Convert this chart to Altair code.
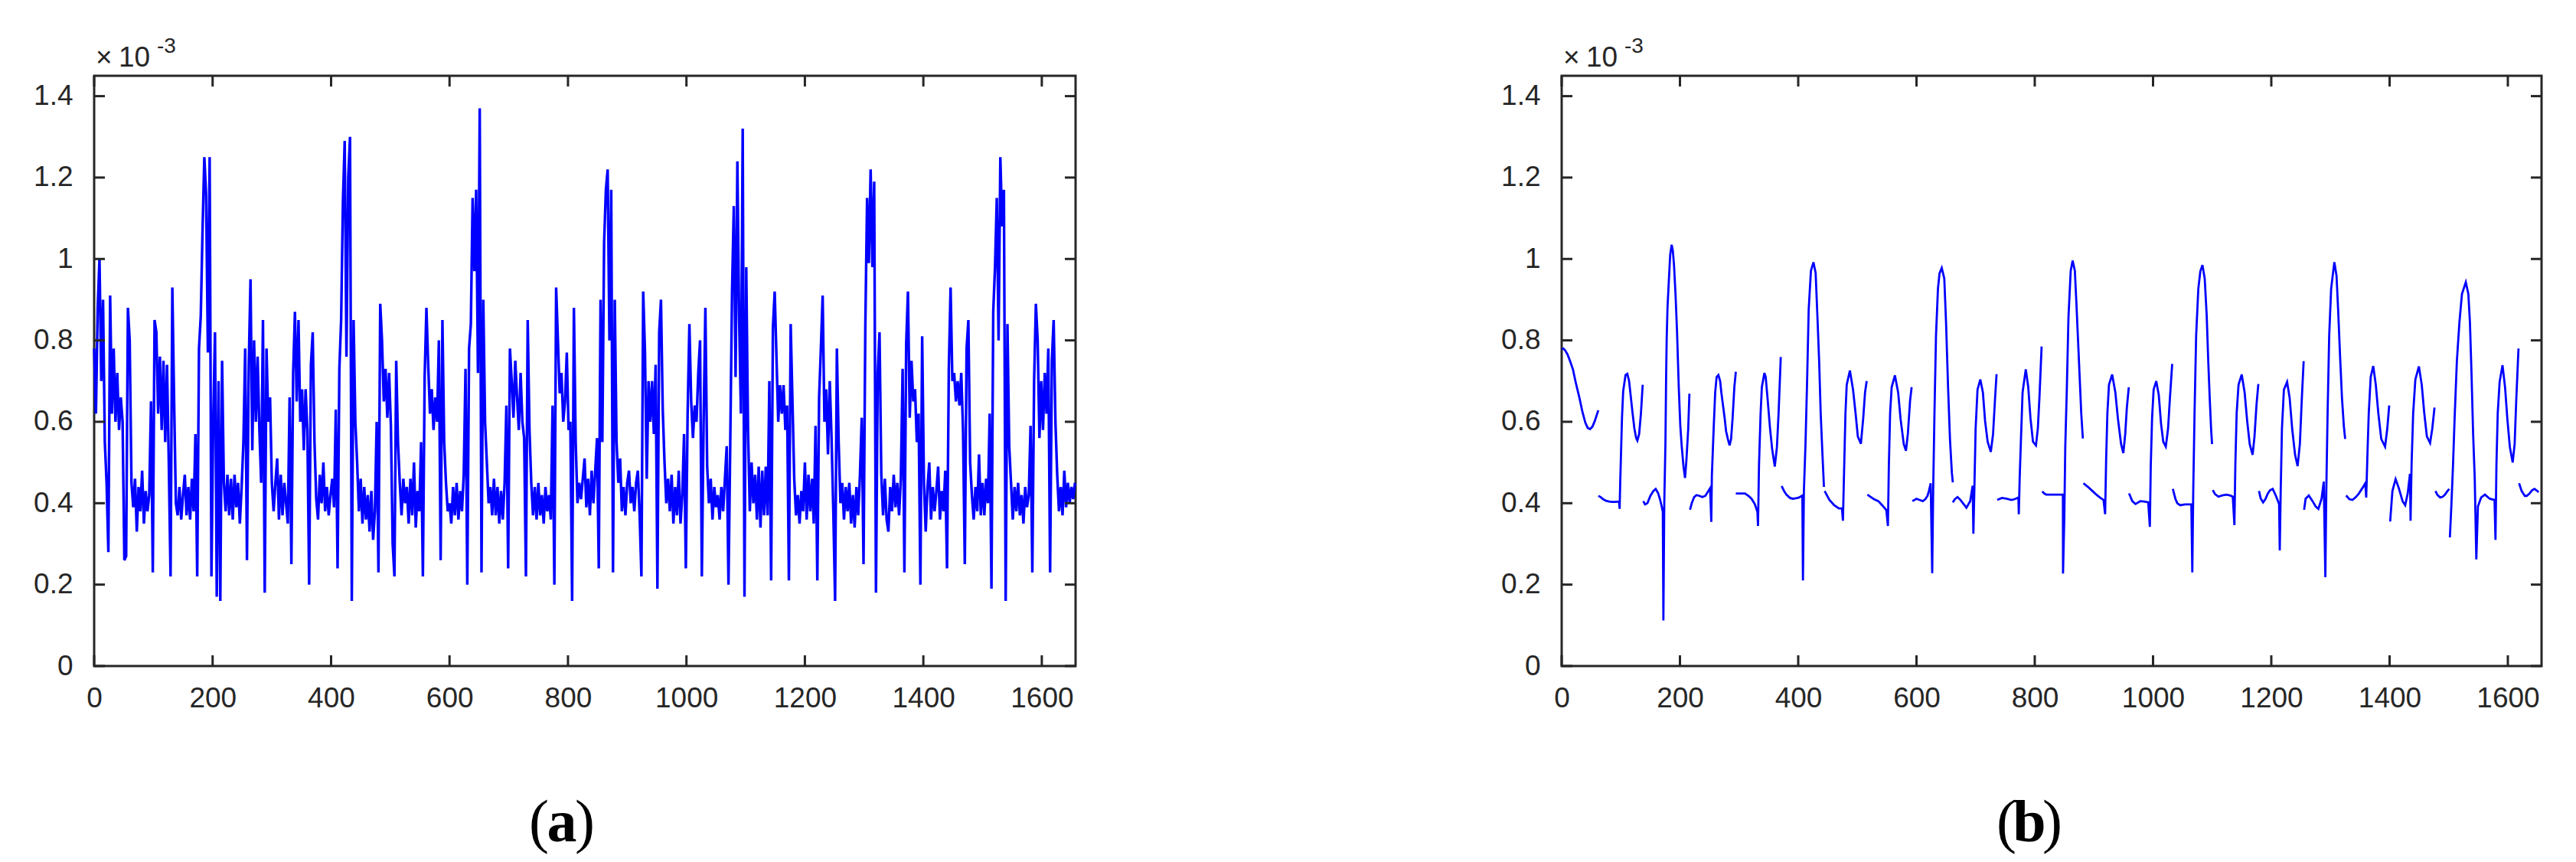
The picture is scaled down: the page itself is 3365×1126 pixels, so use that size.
import altair as alt
import pandas as pd

# ---------------- axes ----------------
X_MAX = 1657
Y_MAX = 1.45
x_ticks = [0, 200, 400, 600, 800, 1000, 1200, 1400, 1600]
y_ticks = [0, 0.2, 0.4, 0.6, 0.8, 1, 1.2, 1.4]
exponent_power = "-3"
captions = ["a", "b"]

# ---------------- panel (a): noisy signal, one value every 3 samples (x 10^-3) ----------------
a_step = 3
a_y = [
    0.78, 0.62, 0.88, 1.00, 0.70, 0.90, 0.55, 0.45, 0.28, 0.91, 0.62, 0.78, 0.60, 0.72, 0.58, 0.66, 0.60, 0.26, 0.27, 0.88,
    0.80, 0.45, 0.39, 0.46, 0.33, 0.44, 0.38, 0.48, 0.35, 0.43, 0.38, 0.42, 0.65, 0.23, 0.85, 0.82, 0.62, 0.76, 0.58, 0.75,
    0.55, 0.74, 0.50, 0.22, 0.93, 0.65, 0.40, 0.37, 0.44, 0.36, 0.42, 0.47, 0.37, 0.44, 0.36, 0.46, 0.38, 0.57, 0.22, 0.78,
    0.86, 1.07, 1.25, 1.16, 0.77, 1.25, 0.22, 0.60, 0.82, 0.17, 0.70, 0.16, 0.75, 0.45, 0.38, 0.47, 0.37, 0.46, 0.36, 0.47,
    0.39, 0.45, 0.35, 0.44, 0.55, 0.78, 0.26, 0.74, 0.95, 0.53, 0.80, 0.60, 0.76, 0.58, 0.45, 0.85, 0.18, 0.78, 0.60, 0.66,
    0.45, 0.38, 0.45, 0.51, 0.36, 0.47, 0.37, 0.45, 0.40, 0.35, 0.66, 0.25, 0.72, 0.87, 0.65, 0.85, 0.60, 0.68, 0.53, 0.68,
    0.58, 0.20, 0.74, 0.82, 0.55, 0.41, 0.36, 0.47, 0.40, 0.50, 0.38, 0.44, 0.37, 0.42, 0.46, 0.39, 0.63, 0.24, 0.73, 0.85,
    1.14, 1.29, 0.76, 1.20, 1.30, 0.16, 0.85, 0.60, 0.50, 0.38, 0.46, 0.35, 0.44, 0.36, 0.42, 0.33, 0.43, 0.31, 0.38, 0.60,
    0.23, 0.89, 0.80, 0.65, 0.73, 0.61, 0.72, 0.59, 0.30, 0.22, 0.75, 0.55, 0.45, 0.37, 0.46, 0.40, 0.44, 0.35, 0.46, 0.37,
    0.50, 0.34, 0.43, 0.38, 0.55, 0.22, 0.71, 0.88, 0.74, 0.62, 0.68, 0.58, 0.66, 0.60, 0.80, 0.26, 0.85, 0.55, 0.45, 0.38,
    0.40, 0.35, 0.44, 0.37, 0.45, 0.36, 0.43, 0.38, 0.47, 0.73, 0.20, 0.78, 0.84, 1.15, 0.97, 1.17, 0.72, 1.37, 0.23, 0.90,
    0.60, 0.50, 0.40, 0.44, 0.37, 0.46, 0.37, 0.44, 0.35, 0.43, 0.36, 0.45, 0.64, 0.24, 0.78, 0.70, 0.61, 0.75, 0.66, 0.58,
    0.72, 0.60, 0.56, 0.22, 0.85, 0.58, 0.45, 0.37, 0.44, 0.36, 0.45, 0.37, 0.42, 0.35, 0.44, 0.38, 0.42, 0.36, 0.64, 0.20,
    0.93, 0.80, 0.67, 0.72, 0.60, 0.65, 0.77, 0.58, 0.60, 0.16, 0.88, 0.55, 0.40, 0.45, 0.41, 0.46, 0.51, 0.39, 0.46, 0.37,
    0.48, 0.40, 0.48, 0.56, 0.24, 0.90, 0.55, 1.04, 1.17, 1.22, 0.80, 1.17, 0.23, 0.90, 0.55, 0.45, 0.51, 0.38, 0.44, 0.37,
    0.45, 0.48, 0.40, 0.44, 0.38, 0.45, 0.48, 0.37, 0.22, 0.92, 0.77, 0.46, 0.70, 0.60, 0.70, 0.57, 0.74, 0.19, 0.82, 0.90,
    0.63, 0.50, 0.40, 0.46, 0.38, 0.47, 0.35, 0.44, 0.37, 0.48, 0.35, 0.42, 0.57, 0.24, 0.62, 0.84, 0.65, 0.56, 0.64, 0.60,
    0.72, 0.80, 0.22, 0.60, 0.88, 0.49, 0.40, 0.46, 0.36, 0.44, 0.39, 0.42, 0.36, 0.44, 0.38, 0.46, 0.54, 0.20, 0.55, 0.92,
    1.13, 0.71, 1.24, 0.85, 0.62, 1.32, 0.17, 0.98, 0.58, 0.38, 0.50, 0.40, 0.47, 0.36, 0.49, 0.34, 0.48, 0.37, 0.49, 0.37,
    0.70, 0.21, 0.83, 0.92, 0.76, 0.60, 0.69, 0.62, 0.69, 0.58, 0.64, 0.21, 0.84, 0.65, 0.46, 0.37, 0.42, 0.35, 0.43, 0.38,
    0.50, 0.36, 0.47, 0.38, 0.46, 0.35, 0.59, 0.21, 0.66, 0.78, 0.91, 0.60, 0.68, 0.52, 0.70, 0.56, 0.38, 0.16, 0.78, 0.55,
    0.40, 0.45, 0.36, 0.44, 0.38, 0.45, 0.35, 0.42, 0.34, 0.44, 0.37, 0.47, 0.61, 0.25, 0.83, 1.15, 0.99, 1.22, 0.98, 1.19,
    0.18, 0.72, 0.82, 0.47, 0.37, 0.46, 0.36, 0.33, 0.44, 0.38, 0.47, 0.39, 0.45, 0.37, 0.46, 0.73, 0.23, 0.79, 0.92, 0.61,
    0.75, 0.65, 0.68, 0.55, 0.62, 0.20, 0.81, 0.45, 0.33, 0.44, 0.50, 0.36, 0.44, 0.38, 0.43, 0.49, 0.36, 0.43, 0.38, 0.48,
    0.24, 0.73, 0.93, 0.70, 0.72, 0.65, 0.70, 0.64, 0.72, 0.58, 0.25, 0.78, 0.85, 0.50, 0.42, 0.36, 0.44, 0.38, 0.52, 0.37,
    0.45, 0.37, 0.46, 0.40, 0.62, 0.19, 0.87, 0.98, 1.15, 0.80, 1.25, 1.08, 1.17, 0.16, 0.84, 0.54, 0.45, 0.36, 0.44, 0.38,
    0.45, 0.37, 0.42, 0.35, 0.44, 0.39, 0.42, 0.59, 0.23, 0.70, 0.89, 0.80, 0.56, 0.70, 0.58, 0.72, 0.62, 0.78, 0.23, 0.75,
    0.85, 0.60, 0.47, 0.38, 0.44, 0.37, 0.48, 0.39, 0.45, 0.40, 0.44, 0.41, 0.45,
]
a_x = [i * a_step for i in range(len(a_y))]

# ---------------- panel (b): smoothed, broken signal (x 10^-3), one list per piece ----------------
b_segments = [
    [(0, 0.779), (3, 0.78), (6, 0.775), (10, 0.765), (14, 0.75), (19, 0.729), (24, 0.695), (30, 0.659), (35, 0.625),
     (40, 0.598), (44, 0.585), (48, 0.582), (52, 0.588), (56, 0.602), (60, 0.62), (62, 0.628)],
    [(62, 0.418), (66, 0.415), (70, 0.41), (75, 0.406), (80, 0.404), (85, 0.403), (90, 0.403), (97, 0.404), (98, 0.386),
     (99, 0.45), (102, 0.61), (104, 0.675), (108, 0.715), (111, 0.718), (114, 0.70), (117, 0.66), (120, 0.62),
     (123, 0.583), (126, 0.56), (128, 0.554), (131, 0.57), (134, 0.62), (137, 0.691)],
    [(138, 0.405), (141, 0.397), (145, 0.40), (150, 0.418), (155, 0.43), (159, 0.435), (163, 0.425), (166, 0.411),
     (169, 0.393), (171, 0.379), (172, 0.112), (173.5, 0.40), (175.5, 0.55), (176.6, 0.707), (177.6, 0.806),
     (179, 0.882), (181, 0.94), (183.5, 1.01), (186, 1.035), (188, 1.02), (190, 0.984), (192.5, 0.914), (195, 0.825),
     (198, 0.685), (200.6, 0.59), (203, 0.54), (206, 0.49), (208.6, 0.462), (211, 0.507), (214, 0.583), (216, 0.669)],
    [(217, 0.384), (220, 0.40), (224, 0.415), (228, 0.42), (233, 0.418), (238, 0.415), (243, 0.418), (248, 0.43),
     (251, 0.437), (253, 0.354), (254, 0.468), (257, 0.583), (259.6, 0.672), (262, 0.71), (265, 0.715), (268, 0.70),
     (270, 0.672), (275.7, 0.608), (278, 0.577), (281, 0.558), (284, 0.542), (286.5, 0.558), (289, 0.608),
     (292, 0.685), (294.5, 0.723)],
    [(294.5, 0.424), (300, 0.424), (306, 0.424), (310, 0.424), (316, 0.418), (321, 0.411), (326.5, 0.398),
     (331, 0.379), (332, 0.344), (333.7, 0.494), (336.4, 0.621), (338.5, 0.685), (342.8, 0.72), (345, 0.71),
     (348, 0.66), (352.4, 0.583), (356, 0.532), (360.4, 0.49), (364, 0.538), (366.8, 0.621), (370.5, 0.759)],
    [(372, 0.442), (376, 0.43), (380, 0.421), (386, 0.413), (390.7, 0.411), (396, 0.412), (401.4, 0.414), (407, 0.419),
     (408, 0.21), (409.6, 0.43), (412.3, 0.545), (415, 0.698), (417.7, 0.876), (421.5, 0.971), (425.8, 0.992),
     (429.5, 0.965), (432.7, 0.85), (435.4, 0.749), (438, 0.621), (440.8, 0.526), (443.5, 0.44)],
    [(444.7, 0.43), (452.7, 0.408), (460.8, 0.395), (468.8, 0.387), (474, 0.387), (475.6, 0.357), (477.8, 0.494),
     (479.9, 0.621), (482, 0.691), (487.4, 0.726), (492.7, 0.679), (497, 0.621), (500.8, 0.564), (506, 0.546),
     (509.9, 0.608), (513, 0.672), (515.8, 0.70)],
    [(517, 0.421), (522, 0.416), (528, 0.41), (535.5, 0.405), (542, 0.395), (549, 0.383), (551.7, 0.344),
     (553.3, 0.494), (555.4, 0.621), (558, 0.685), (563.5, 0.714), (569, 0.672), (573, 0.608), (578.5, 0.545),
     (582.2, 0.529), (585.4, 0.57), (589.2, 0.653), (591.8, 0.685)],
    [(593, 0.405), (600, 0.411), (605, 0.408), (610.6, 0.405), (615, 0.41), (618.6, 0.418), (621, 0.43), (624, 0.449),
     (626.6, 0.228), (628.2, 0.43), (630.4, 0.621), (633, 0.812), (636.3, 0.927), (639, 0.965), (642.7, 0.978),
     (647, 0.952), (650, 0.844), (653.4, 0.685), (656.6, 0.558), (659.8, 0.475), (661.4, 0.451)],
    [(661.4, 0.402), (665, 0.41), (669.4, 0.415), (673, 0.41), (677.4, 0.402), (684.4, 0.389), (690.8, 0.405),
     (695, 0.443), (696.2, 0.325), (697.8, 0.43), (700, 0.583), (703.2, 0.679), (708, 0.704), (712.3, 0.672),
     (716, 0.602), (720.3, 0.551), (725.7, 0.526), (729.5, 0.57), (732.7, 0.653), (735.4, 0.717)],
    [(736.5, 0.408), (744.5, 0.413), (752, 0.411), (760.6, 0.408), (766, 0.41), (772.4, 0.414), (773, 0.373),
     (774.5, 0.462), (776.7, 0.558), (779.4, 0.672), (784.8, 0.729), (789, 0.685), (792.8, 0.608), (797, 0.551),
     (802, 0.542), (805.2, 0.583), (807.9, 0.659), (811.6, 0.785)],
    [(812.6, 0.429), (816, 0.424), (819.5, 0.421), (830, 0.421), (840, 0.421), (847.6, 0.421), (847.8, 0.227),
     (850, 0.367), (851.6, 0.539), (854.3, 0.685), (857, 0.857), (860.8, 0.971), (864, 0.996), (867.8, 0.971),
     (870.5, 0.889), (873.2, 0.80), (875.9, 0.711), (878.6, 0.621), (881.3, 0.559)],
    [(882.3, 0.449), (890, 0.44), (897.5, 0.43), (905, 0.42), (911, 0.413), (916.3, 0.408), (919, 0.373),
     (920.7, 0.507), (922.8, 0.621), (925.5, 0.691), (930.9, 0.716), (936.3, 0.672), (940.6, 0.608), (946, 0.545),
     (949.8, 0.523), (953, 0.57), (955.7, 0.634), (959, 0.685)],
    [(959.5, 0.424), (964.9, 0.405), (970.3, 0.398), (978.4, 0.405), (985, 0.404), (991.9, 0.402), (994.6, 0.342),
     (996.2, 0.494), (998.4, 0.609), (1001, 0.679), (1005.4, 0.70), (1009.7, 0.666), (1013.5, 0.596), (1017.3, 0.551),
     (1021.6, 0.539), (1025.4, 0.583), (1028.6, 0.659), (1032.4, 0.742)],
    [(1033.5, 0.435), (1037.8, 0.411), (1041, 0.40), (1045.9, 0.395), (1054, 0.397), (1064.8, 0.397), (1066.4, 0.23),
     (1068, 0.43), (1070.2, 0.621), (1072.9, 0.812), (1076.6, 0.927), (1080, 0.97), (1083.6, 0.985), (1087.4, 0.952),
     (1090.7, 0.863), (1093.4, 0.749), (1096, 0.653), (1098.2, 0.583), (1099.8, 0.545)],
    [(1101, 0.432), (1105, 0.422), (1110.6, 0.416), (1117, 0.419), (1124.1, 0.421), (1130, 0.419), (1134.9, 0.416),
     (1137.6, 0.346), (1139.2, 0.494), (1141.4, 0.621), (1144.6, 0.691), (1150, 0.716), (1154.9, 0.672),
     (1159.2, 0.602), (1163.5, 0.545), (1168.4, 0.519), (1171.6, 0.564), (1174.9, 0.64), (1178.1, 0.693)],
    [(1179.2, 0.43), (1182, 0.412), (1186.2, 0.402), (1190, 0.41), (1194.3, 0.424), (1198, 0.432), (1202.4, 0.435),
     (1207.8, 0.418), (1213.2, 0.398), (1214.3, 0.284), (1215.9, 0.43), (1218, 0.583), (1221.3, 0.679),
     (1226.7, 0.698), (1231, 0.659), (1235.3, 0.583), (1240.2, 0.519), (1244.5, 0.491), (1248.3, 0.545),
     (1251.5, 0.653), (1254.7, 0.749)],
    [(1255.5, 0.384), (1258, 0.411), (1263.4, 0.419), (1269.8, 0.405), (1275, 0.392), (1279.6, 0.386), (1285, 0.411),
     (1288.7, 0.453), (1291.4, 0.218), (1293, 0.43), (1295.2, 0.621), (1297.9, 0.812), (1301.2, 0.927),
     (1306.6, 0.992), (1310.3, 0.959), (1313, 0.876), (1316.3, 0.761), (1319.5, 0.659), (1322.7, 0.589),
     (1324.9, 0.558)],
    [(1326.5, 0.419), (1332, 0.41), (1337.3, 0.408), (1343, 0.415), (1348.1, 0.424), (1354, 0.437), (1358.9, 0.449),
     (1360.5, 0.414), (1362.7, 0.526), (1364.8, 0.621), (1368.1, 0.71), (1372.4, 0.737), (1376.7, 0.691),
     (1381, 0.621), (1385.9, 0.558), (1392.4, 0.539), (1396.1, 0.583), (1399.4, 0.64)],
    [(1401, 0.355), (1404.8, 0.43), (1410.2, 0.459), (1415.6, 0.437), (1422, 0.405), (1426.4, 0.395), (1430.7, 0.424),
     (1434.5, 0.472), (1435.5, 0.357), (1437.2, 0.494), (1439.9, 0.621), (1443.6, 0.704), (1449.6, 0.736),
     (1454.4, 0.691), (1458.7, 0.621), (1463.1, 0.564), (1468.5, 0.548), (1472.2, 0.583), (1476, 0.635)],
    [(1477.6, 0.43), (1481, 0.42), (1485.7, 0.414), (1490, 0.416), (1493.8, 0.421), (1497, 0.428), (1500.9, 0.435)],
    [(1502, 0.316), (1504.6, 0.398), (1507.3, 0.494), (1510, 0.609), (1513.8, 0.749), (1518.1, 0.844), (1522.4, 0.914),
     (1528.9, 0.943), (1533.2, 0.914), (1535.9, 0.844), (1538.6, 0.717), (1541.3, 0.57), (1544, 0.462),
     (1546.7, 0.262), (1549.4, 0.392), (1554.8, 0.414), (1561.3, 0.421), (1569.4, 0.411), (1577.5, 0.408),
     (1579.1, 0.31), (1580.7, 0.494), (1582.9, 0.621), (1586.1, 0.698), (1591, 0.739), (1595.3, 0.685),
     (1599.1, 0.608), (1603.4, 0.538), (1608.2, 0.50), (1611.5, 0.545), (1614.2, 0.653), (1618, 0.78)],
    [(1619, 0.449), (1623.3, 0.43), (1628.7, 0.418), (1632, 0.418), (1636.8, 0.424), (1641, 0.432), (1645, 0.435),
     (1649, 0.431), (1652, 0.427)],
]

# ---------------- tables ----------------
df_a = pd.DataFrame({"x": a_x, "y": a_y})
rows = []
for k, seg in enumerate(b_segments):
    for (xv, yv) in seg:
        rows.append({"x": xv, "y": yv, "seg": k})
df_b = pd.DataFrame(rows)
frame = pd.DataFrame({"x": [0.0], "y": [0.0]})
xt = pd.DataFrame({"x": x_ticks})
yt = pd.DataFrame({"y": y_ticks})

# ---------------- style ----------------
BLUE = "#0000FF"
INK = "#262626"
SANS = "Liberation Sans"
SERIF = "Liberation Serif"
H = 771
W_A = 1282
W_B = 1280
TICK = 14


def panel(df, width, letter, broken, line_w):
    xs = alt.Scale(domain=[0, X_MAX], nice=False, zero=False)
    ys = alt.Scale(domain=[0, Y_MAX], nice=False, zero=False)
    x_axis = alt.Axis(values=x_ticks, ticks=False, labelPadding=24, format="d", labelFlush=False,
                      labelOverlap=False, labelFont=SANS, labelFontSize=37, labelColor=INK,
                      domain=False, grid=False)
    y_axis = alt.Axis(values=y_ticks, ticks=False, labelPadding=28, format="~g", labelFlush=False,
                      labelOverlap=False, labelFont=SANS, labelFontSize=37, labelColor=INK,
                      domain=False, grid=False)
    X = alt.X("x:Q", scale=xs, title=None, axis=x_axis)
    Y = alt.Y("y:Q", scale=ys, title=None, axis=y_axis)
    enc = dict(x=X, y=Y)
    if broken:
        enc["detail"] = alt.Detail("seg:N")
    line = alt.Chart(df).mark_line(color=BLUE, strokeWidth=line_w).encode(**enc)

    # inward ticks on the four sides of the box
    tick_b = alt.Chart(xt).mark_rule(color=INK, strokeWidth=3).encode(
        x=X, y=alt.value(H), y2=alt.value(H - TICK))
    tick_t = alt.Chart(xt).mark_rule(color=INK, strokeWidth=3).encode(
        x=X, y=alt.value(0), y2=alt.value(TICK))
    tick_l = alt.Chart(yt).mark_rule(color=INK, strokeWidth=3).encode(
        y=Y, x=alt.value(0), x2=alt.value(TICK))
    tick_r = alt.Chart(yt).mark_rule(color=INK, strokeWidth=3).encode(
        y=Y, x=alt.value(width), x2=alt.value(width - TICK))

    times = alt.Chart(frame).mark_text(text="\u00d7", font=SANS, fontSize=37, color=INK,
                                       align="left", baseline="alphabetic").encode(
        x=alt.value(2), y=alt.value(-12))
    ten = alt.Chart(frame).mark_text(text="10", font=SANS, fontSize=37, color=INK,
                                     align="left", baseline="alphabetic").encode(
        x=alt.value(32), y=alt.value(-12))
    power = alt.Chart(frame).mark_text(text=exponent_power, font=SANS, fontSize=28, color=INK,
                                       align="left", baseline="alphabetic").encode(
        x=alt.value(82), y=alt.value(-30))

    cx = 611
    cy = 1000
    cap_l = alt.Chart(frame).mark_text(text="(", font=SERIF, fontSize=78, color="#000000",
                                       align="right", baseline="alphabetic").encode(
        x=alt.value(cx - 17), y=alt.value(cy))
    cap_m = alt.Chart(frame).mark_text(text=letter, font=SERIF, fontSize=78, fontWeight="bold",
                                       color="#000000", align="center", baseline="alphabetic").encode(
        x=alt.value(cx), y=alt.value(cy))
    cap_r = alt.Chart(frame).mark_text(text=")", font=SERIF, fontSize=78, color="#000000",
                                       align="left", baseline="alphabetic").encode(
        x=alt.value(cx + 17), y=alt.value(cy))

    return alt.layer(line, tick_b, tick_t, tick_l, tick_r, times, ten, power,
                     cap_l, cap_m, cap_r).properties(width=width, height=H)


pa = panel(df_a, W_A, captions[0], False, 3.4)
pb = panel(df_b, W_B, captions[1], True, 2.8)

chart = alt.hconcat(
    pa, pb, spacing=635, bounds="flush",
    padding={"left": 34, "top": 37, "right": 5, "bottom": 5},
).configure_view(stroke=INK, strokeWidth=3)

chart.save("out.html", embed_options={"renderer": "svg", "actions": False})
